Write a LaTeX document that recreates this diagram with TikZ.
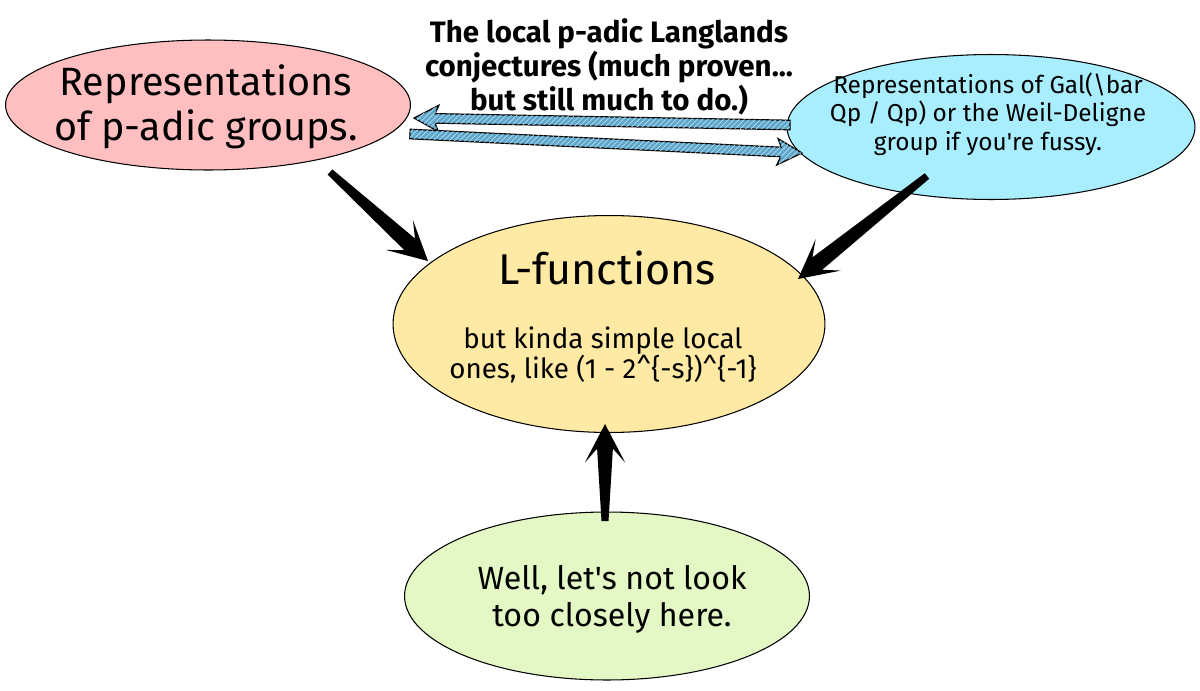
\documentclass[tikz,border=0pt]{standalone}
\usepackage{fontspec}
\setmainfont{Fira Sans}
\usetikzlibrary{calc,shapes.geometric,patterns}
\definecolor{cPink}{HTML}{FFBFC0}
\definecolor{cSky}{HTML}{A9EEFF}
\definecolor{cSand}{HTML}{FFEAA5}
\definecolor{cLime}{HTML}{E3F8C4}
\definecolor{cHatch}{HTML}{5FA6CB}
\definecolor{cHatchLn}{HTML}{B4DCEF}
\tikzset{
  blob/.style={ellipse,draw=black,line width=.6pt,inner sep=0pt},
  txt/.style={align=center,inner sep=0pt},
  hatch/.style={draw=black,line width=.7pt,fill=cHatch,postaction={pattern=north east lines,pattern color=cHatchLn}},
  solid/.style={fill=black},
}
% polygon arrow: style, from, to, tail/neck/barb half widths, neck/barb distance back from tip
\newcommand{\fatarrow}[8]{%
  \path[#1] let \p1=($(#3)-(#2)$), \n1={atan2(\y1,\x1)}, \n2={veclen(\x1,\y1)} in
    ($(#2)+(\n1+90:#4)$) -- ($(#2)+(\n1:\n2-#7)+(\n1+90:#5)$) -- ($(#2)+(\n1:\n2-#8)+(\n1+90:#6)$)
    -- (#3)
    -- ($(#2)+(\n1:\n2-#8)+(\n1-90:#6)$) -- ($(#2)+(\n1:\n2-#7)+(\n1-90:#5)$) -- ($(#2)+(\n1-90:#4)$) -- cycle;}

\begin{document}
\begin{tikzpicture}[x=0.02cm,y=-0.02cm]
  \useasboundingbox (0,0) rectangle (1200,690);
  % the four bubbles
  \node[blob,fill=cPink,minimum width=8.1cm,minimum height=2.6cm] (padic) at (208,105) {};
  \node[blob,fill=cSky,minimum width=8.16cm,minimum height=2.9cm] (galois) at (991,127) {};
  \node[blob,fill=cSand,minimum width=8.64cm,minimum height=4.34cm] (lfun) at (609,324) {};
  \node[blob,fill=cLime,minimum width=8.1cm,minimum height=3.36cm] (closely) at (607,596) {};
  % texts
  \node[txt,font=\fontsize{22.5}{25.5}\selectfont] (padictxt) at (206,107) {Representations\\of p-adic groups.};
  \node[txt,font=\fontsize{13.9}{16.2}\selectfont] (galoistxt) at (988,114) {Representations of Gal(\textbackslash bar\\Qp / Qp) or the Weil-Deligne\\group if you\textquotesingle re fussy.};
  \node[txt,font=\fontsize{24.5}{28}\selectfont] (lfuntitle) at (607,268) {L-functions};
  \node[txt,font=\fontsize{15.8}{17}\selectfont] (lfuntxt) at (603,355) {but kinda simple local\\ones, like (1 - 2\^{}\{-s\})\^{}\{-1\}};
  \node[txt,font=\fontsize{18.3}{21}\selectfont] (closelytxt) at (612,599) {Well, let\textquotesingle s not look\\too closely here.};
  \node[txt,font=\bfseries\fontsize{16.8}{19.3}\selectfont] (conj) at (609,67) {The local p-adic Langlands\\conjectures (much proven...\\but still much to do.)};
  % end points of the arrows
  \coordinate (h1s) at (790,125);
  \coordinate (h1e) at (414,118);
  \coordinate (h2s) at (410,134);
  \coordinate (h2e) at (802,153);
  \coordinate (b1s) at (330,172);
  \coordinate (b1e) at (428,261);
  \coordinate (b2s) at (927,176);
  \coordinate (b2e) at (798,279);
  \coordinate (b3s) at (605,521);
  \coordinate (b3e) at (605,424);
  % correspondence arrows
  \fatarrow{hatch}{h1s}{h1e}{2.7pt}{2.7pt}{7.5pt}{12pt}{14pt}
  \fatarrow{hatch}{h2s}{h2e}{2.7pt}{2.7pt}{7.5pt}{12pt}{14pt}
  % the black ones
  \fatarrow{solid}{b1s}{b1e}{2pt}{4.5pt}{11.5pt}{14pt}{22pt}
  \fatarrow{solid}{b2s}{b2e}{2pt}{4.5pt}{11.5pt}{14pt}{22pt}
  \fatarrow{solid}{b3s}{b3e}{2pt}{4.5pt}{11.5pt}{14pt}{22pt}
\end{tikzpicture}
\end{document}
